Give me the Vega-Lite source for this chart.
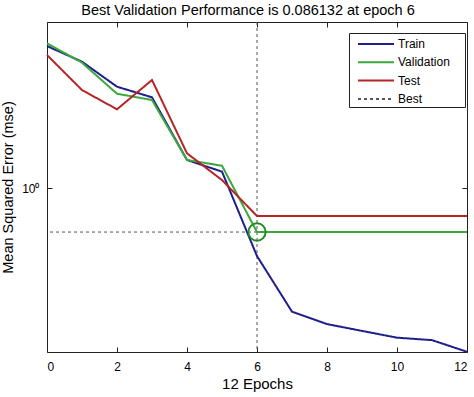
{
  "$schema": "https://vega.github.io/schema/vega-lite/v6.json",
  "width": 420,
  "height": 330,
  "autosize": "none",
  "padding": {"left": 47, "top": 22, "right": 7, "bottom": 45},
  "background": "white",
  "config": {
    "font": "Liberation Sans",
    "view": {"stroke": "#222", "strokeWidth": 1},
    "axis": {
      "grid": false,
      "domainColor": "#222",
      "tickColor": "#222",
      "labelColor": "#000",
      "titleColor": "#000",
      "labelFont": "Liberation Sans",
      "titleFont": "Liberation Sans",
      "titleFontWeight": "normal",
      "labelFontSize": 12,
      "tickSize": -5
    },
    "legend": {
      "orient": "none", "legendX": 302, "legendY": 11,
      "symbolType": "M-2.25,0H2.25", "symbolSize": 256, "symbolStrokeWidth": 2,
      "symbolOffset": 16,
      "labelFontSize": 12, "labelFont": "Liberation Sans", "labelColor": "#000",
      "titleOrient": "right", "titlePadding": 13, "titleFontSize": 12,
      "strokeColor": "#222", "fillColor": "white", "padding": 2, "rowPadding": 3.3, "labelOffset": 13
    }
  },
  "title": {
    "text": "Best Validation Performance is 0.086132 at epoch 6",
    "fontSize": 14.5,
    "fontWeight": "normal",
    "color": "#000",
    "font": "Liberation Sans",
    "offset": -8,
    "dx": -9,
    "baseline": "alphabetic"
  },
  "datasets": {
    "perf": [
      {"epoch": 0, "series": "Train", "mse": 2.693},
      {"epoch": 1, "series": "Train", "mse": 2.414},
      {"epoch": 2, "series": "Train", "mse": 2.028},
      {"epoch": 3, "series": "Train", "mse": 1.883},
      {"epoch": 4, "series": "Train", "mse": 1.216},
      {"epoch": 5, "series": "Train", "mse": 1.121},
      {"epoch": 6, "series": "Train", "mse": 0.622},
      {"epoch": 7, "series": "Train", "mse": 0.422},
      {"epoch": 8, "series": "Train", "mse": 0.387},
      {"epoch": 9, "series": "Train", "mse": 0.369},
      {"epoch": 10, "series": "Train", "mse": 0.352},
      {"epoch": 11, "series": "Train", "mse": 0.346},
      {"epoch": 12, "series": "Train", "mse": 0.319},
      {"epoch": 0, "series": "Validation", "mse": 2.745},
      {"epoch": 1, "series": "Validation", "mse": 2.398},
      {"epoch": 2, "series": "Validation", "mse": 1.931},
      {"epoch": 3, "series": "Validation", "mse": 1.848},
      {"epoch": 4, "series": "Validation", "mse": 1.216},
      {"epoch": 5, "series": "Validation", "mse": 1.168},
      {"epoch": 6, "series": "Validation", "mse": 0.7356},
      {"epoch": 7, "series": "Validation", "mse": 0.7356},
      {"epoch": 8, "series": "Validation", "mse": 0.7356},
      {"epoch": 9, "series": "Validation", "mse": 0.7356},
      {"epoch": 10, "series": "Validation", "mse": 0.7356},
      {"epoch": 11, "series": "Validation", "mse": 0.7356},
      {"epoch": 12, "series": "Validation", "mse": 0.7356},
      {"epoch": 0, "series": "Test", "mse": 2.53},
      {"epoch": 1, "series": "Test", "mse": 1.981},
      {"epoch": 2, "series": "Test", "mse": 1.732},
      {"epoch": 3, "series": "Test", "mse": 2.125},
      {"epoch": 4, "series": "Test", "mse": 1.274},
      {"epoch": 5, "series": "Test", "mse": 1.057},
      {"epoch": 6, "series": "Test", "mse": 0.8226},
      {"epoch": 7, "series": "Test", "mse": 0.8226},
      {"epoch": 8, "series": "Test", "mse": 0.8226},
      {"epoch": 9, "series": "Test", "mse": 0.8226},
      {"epoch": 10, "series": "Test", "mse": 0.8226},
      {"epoch": 11, "series": "Test", "mse": 0.8226},
      {"epoch": 12, "series": "Test", "mse": 0.8226}
    ],
    "bestH": [{"series": "Best", "mse": 0.7356}],
    "bestV": [{"series": "Best", "epoch": 6}],
    "bestPoint": [{"epoch": 6, "mse": 0.7356}]
  },
  "layer": [
    {
      "data": {"name": "bestH"},
      "mark": {"type": "rule", "strokeWidth": 1},
      "encoding": {
        "y": {
          "field": "mse", "type": "quantitative",
          "scale": {"type": "log", "domain": [0.3185, 3.185], "nice": false},
          "axis": {"orient": "right", "labels": false, "values": [1], "title": null, "domain": false}
        },
        "color": {"field": "series", "type": "nominal", "title": "\u00a0",
          "scale": {"domain": ["Train", "Validation", "Test", "Best"], "range": ["#1f1f8c", "#3aa83a", "#b52525", "#555555"]}},
        "strokeDash": {"field": "series", "type": "nominal", "title": "\u00a0",
          "scale": {"domain": ["Train", "Validation", "Test", "Best"], "range": [[1, 0], [1, 0], [1, 0], [3, 3]]}}
      }
    },
    {
      "data": {"name": "bestV"},
      "mark": {"type": "rule", "strokeWidth": 1},
      "encoding": {
        "x": {
          "field": "epoch", "type": "quantitative",
          "scale": {"domain": [0, 12], "nice": false, "zero": false},
          "axis": {"orient": "top", "labels": false, "values": [0, 2, 4, 6, 8, 10, 12], "title": null, "domain": false}
        },
        "color": {"field": "series", "type": "nominal", "title": "\u00a0"},
        "strokeDash": {"field": "series", "type": "nominal", "title": "\u00a0"}
      }
    },
    {
      "data": {"name": "perf"},
      "mark": {"type": "line", "strokeWidth": 2},
      "encoding": {
        "x": {
          "field": "epoch", "type": "quantitative",
          "axis": {"orient": "bottom", "values": [0, 2, 4, 6, 8, 10, 12], "title": "12 Epochs", "titleFontSize": 15, "labelPadding": 14, "titlePadding": 4, "domain": false}
        },
        "y": {
          "field": "mse", "type": "quantitative",
          "axis": {"orient": "left", "values": [1], "labelExpr": "'10⁰'", "title": "Mean Squared Error  (mse)", "titleFontSize": 14.5, "labelPadding": 13, "titlePadding": 6, "domain": false}
        },
        "color": {"field": "series", "type": "nominal", "title": "\u00a0"},
        "strokeDash": {"field": "series", "type": "nominal", "title": "\u00a0"}
      }
    },
    {
      "data": {"name": "bestPoint"},
      "mark": {"type": "point", "shape": "circle", "filled": false, "stroke": "#1e8c1e", "strokeWidth": 2, "size": 300, "opacity": 1},
      "encoding": {
        "x": {"field": "epoch", "type": "quantitative", "axis": null},
        "y": {"field": "mse", "type": "quantitative", "axis": null}
      }
    }
  ],
  "resolve": {"axis": {"x": "independent", "y": "independent"}}
}
